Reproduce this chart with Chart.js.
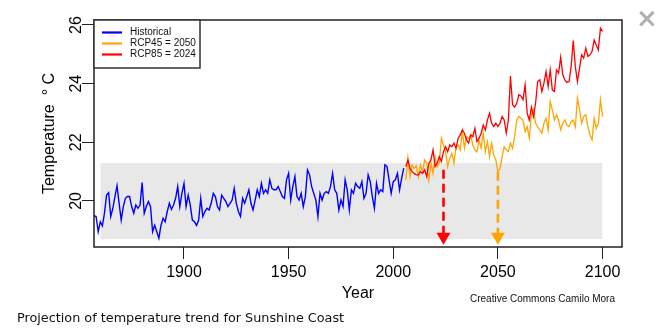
<!DOCTYPE html>
<html>
<head>
<meta charset="utf-8">
<script src="https://cdn.jsdelivr.net/npm/chart.js@4.4.1/dist/chart.umd.min.js"></script>
<style>
  body { margin: 0; background: #fff; }
  #wrap { position: relative; width: 668px; height: 328px; }
  #caption { position: absolute; left: 17px; top: 310px; font: 12.8px "DejaVu Sans", sans-serif; color: #111; white-space: nowrap; }
  #close { position: absolute; left: 636px; top: 3px; font: bold 26px "DejaVu Sans", sans-serif; color: #b0b0b0; }
</style>
</head>
<body>
<div id="wrap">
  <canvas id="chart" width="668" height="328"></canvas>
  <div id="caption">Projection of temperature trend for Sunshine Coast</div>
  <div id="close">×</div>
</div>
<script>
// Dados
const histStart = 1857;
const histTemp = [
  19.50, 19.47, 18.95, 19.29, 19.15, 19.58, 20.20, 20.28, 19.47, 19.75,
  20.15, 20.52, 19.92, 19.35, 19.81, 20.09, 20.15, 20.15, 19.81, 19.58,
  19.86, 19.75, 19.86, 20.63, 19.58, 19.81, 19.98, 19.81, 18.95, 19.17,
  18.95, 18.73, 19.17, 19.41, 19.29, 19.64, 19.92, 19.71, 19.86, 20.09,
  20.49, 19.81, 20.26, 20.60, 19.81, 20.20, 19.86, 19.35, 19.29, 19.17,
  19.35, 20.09, 19.47, 19.64, 19.75, 19.69, 19.92, 20.26, 20.15, 19.81,
  19.69, 20.20, 20.09, 19.98, 19.81, 19.92, 20.03, 20.43, 19.92, 19.64,
  19.47, 20.09, 19.92, 20.15, 20.38, 19.92, 19.69, 20.03, 20.38, 20.15,
  20.60, 20.26, 20.38, 20.26, 20.72, 20.43, 20.38, 20.38, 20.49, 20.32,
  20.15, 20.09, 20.72, 20.94, 20.03, 20.49, 20.83, 20.15, 20.03, 20.26,
  19.81, 20.15, 21.06, 20.89, 20.49, 20.26, 20.03, 19.47, 20.26, 20.03,
  20.26, 20.32, 20.26, 20.49, 20.94, 20.38, 20.26, 19.69, 20.03, 19.81,
  20.72, 20.38, 19.69, 20.38, 20.26, 20.60, 20.49, 20.43, 20.66, 20.09,
  20.26, 20.89, 20.66, 20.15, 19.75, 20.60, 20.26, 20.38, 20.32, 21.23,
  21.18, 20.72, 20.26, 20.66, 20.72, 20.94, 20.38, 20.77, 21.12
];

const projStart = 2006;
const rcp45Temp = [
  20.71, 21.46, 20.83, 21.23, 21.11, 21.20, 20.83, 21.23, 21.00, 21.40,
  21.29, 20.71, 21.29, 20.94, 21.51, 21.17, 21.29, 22.14, 21.90, 21.68,
  21.17, 21.46, 21.63, 21.29, 21.85, 21.91, 21.74, 22.36, 21.80, 22.19,
  22.14, 22.25, 21.91, 21.74, 21.68, 22.08, 21.80, 22.31, 21.68, 22.02,
  21.51, 21.97, 21.57, 21.40, 21.00, 21.10, 21.51, 21.85, 21.74, 21.68,
  21.97, 21.80, 22.20, 22.76, 22.88, 22.82, 22.76, 22.37, 22.53, 22.14,
  22.94, 23.11, 22.65, 22.53, 22.42, 22.31, 22.65, 22.82, 22.42, 23.39,
  23.11, 22.76, 22.94, 22.76, 22.42, 22.65, 22.76, 22.59, 22.53, 22.71,
  22.76, 22.53, 23.50, 23.11, 22.65, 22.88, 22.94, 22.53, 22.25, 22.08,
  22.82, 22.48, 22.65, 23.45, 22.88
];
const rcp85Temp = [
  21.17, 21.40, 21.11, 21.00, 20.94, 20.89, 20.89, 21.00, 20.94, 21.06,
  20.83, 21.29, 21.40, 21.74, 21.17, 21.29, 21.51, 21.35, 21.68, 21.85,
  21.68, 21.91, 21.85, 21.97, 21.80, 22.14, 22.25, 22.42, 22.31, 22.08,
  21.97, 22.25, 22.19, 22.48, 22.02, 22.14, 22.31, 22.59, 22.42, 22.76,
  22.99, 22.65, 22.54, 22.65, 22.54, 22.65, 22.88, 22.76, 22.31, 22.76,
  24.26, 23.28, 23.20, 23.33, 23.62, 23.58, 23.45, 23.96, 22.99, 22.76,
  23.20, 22.88, 23.33, 24.07, 24.13, 23.73, 24.02, 24.41, 23.90, 24.47,
  23.79, 23.73, 24.47, 24.36, 24.90, 24.30, 24.13, 24.04, 24.07, 24.58,
  25.47, 24.58, 24.07, 24.52, 24.98, 24.87, 25.21, 24.93, 24.98, 25.10,
  25.49, 25.32, 25.15, 25.89, 25.78
];

// Faixa cinza (variabilidade histórica)
const bandYears = [1860, 2100];
const bandLow = 18.7;
const bandHigh = 21.29;

// Setas: ano de saída do clima histórico
const arrowYears = [2024, 2050];
const arrowTop = [21.06, 21.0];
const arrowBottom = 18.9;
const arrowHead = 18.78;

const xTicks = [1900, 1950, 2000, 2050, 2100];
const yTicks = [20, 22, 24, 26];

const legendLabels = ['Historical', 'RCP45 = 2050', 'RCP85 = 2024'];
const colors = ['#0000ff', '#ffa500', '#ff0000'];

const toPoints = (start, arr) => arr.map((v, i) => ({ x: start + i, y: v }));

const plotBox = {
  id: 'plotBox',
  afterDraw(chart) {
    const { ctx, chartArea: a } = chart;
    ctx.save();
    // caixa do gráfico
    ctx.strokeStyle = '#222';
    ctx.lineWidth = 1.5;
    ctx.strokeRect(a.left, a.top, a.right - a.left, a.bottom - a.top);

    // legenda
    const lx = a.left, ly = a.top;
    ctx.fillStyle = '#fff';
    ctx.fillRect(lx, ly, 106, 48);
    ctx.strokeStyle = '#333';
    ctx.strokeRect(lx, ly, 106, 48);
    ctx.font = '10px Arial';
    ctx.textBaseline = 'middle';
    legendLabels.forEach((lab, i) => {
      const yy = ly + 12.5 + i * 11;
      ctx.strokeStyle = colors[i];
      ctx.lineWidth = 2.2;
      ctx.beginPath();
      ctx.moveTo(lx + 8, yy);
      ctx.lineTo(lx + 28, yy);
      ctx.stroke();
      ctx.fillStyle = '#111';
      ctx.fillText(lab, lx + 36, yy);
    });

    // crédito
    ctx.font = '10px Arial';
    ctx.fillStyle = '#111';
    ctx.textAlign = 'right';
    ctx.textBaseline = 'alphabetic';
    ctx.fillText('Creative Commons Camilo Mora', 615, 302);
    ctx.restore();
  }
};

const datasets = [
  {
    label: 'band',
    data: bandYears.map(x => ({ x, y: bandHigh })),
    borderWidth: 0,
    backgroundColor: '#e8e8e8',
    fill: { value: bandLow },
    pointRadius: 0,
    order: 10
  },
  {
    label: 'Historical',
    data: toPoints(histStart, histTemp),
    borderColor: colors[0],
    borderWidth: 1.4,
    pointRadius: 0,
    fill: false,
    order: 3
  },
  {
    label: 'RCP45',
    data: toPoints(projStart, rcp45Temp),
    borderColor: colors[1],
    borderWidth: 1.3,
    pointRadius: 0,
    fill: false,
    order: 2
  },
  {
    label: 'RCP85',
    data: toPoints(projStart, rcp85Temp),
    borderColor: colors[2],
    borderWidth: 1.3,
    pointRadius: 0,
    fill: false,
    order: 1
  }
];

// setas tracejadas
arrowYears.forEach((yr, i) => {
  const col = i === 0 ? colors[2] : colors[1];
  datasets.push({
    label: 'arrow' + yr,
    data: [{ x: yr, y: arrowTop[i] }, { x: yr, y: arrowBottom }],
    borderColor: col,
    borderWidth: 2.6,
    borderDash: [9, 5],
    pointRadius: 0,
    fill: false,
    order: 0
  });
  datasets.push({
    label: 'head' + yr,
    data: [{ x: yr, y: arrowHead }],
    showLine: false,
    pointStyle: 'triangle',
    rotation: 180,
    pointRadius: 8,
    pointBackgroundColor: col,
    pointBorderColor: col,
    pointBorderWidth: 0,
    order: 0
  });
});

const axisFont = { family: 'Arial', size: 16 };

new Chart(document.getElementById('chart'), {
  type: 'line',
  data: { datasets },
  options: {
    responsive: false,
    animation: false,
    layout: { padding: { top: 20, right: 46, left: 0, bottom: 0 } },
    plugins: { legend: { display: false }, tooltip: { enabled: false } },
    elements: { line: { tension: 0 } },
    scales: {
      x: {
        type: 'linear',
        min: 1857,
        max: 2109.3,
        afterBuildTicks: s => { s.ticks = xTicks.map(v => ({ value: v })); },
        afterFit: s => { s.height = 81; },
        grid: { drawOnChartArea: false, tickLength: 12, color: '#222' },
        border: { display: false },
        ticks: { padding: 4, maxRotation: 0, color: '#000', font: axisFont, callback: v => String(v) },
        title: { display: true, text: 'Year', color: '#000', font: axisFont, padding: { top: 0, bottom: 25 } }
      },
      y: {
        type: 'linear',
        min: 18.43,
        max: 26.17,
        afterBuildTicks: s => { s.ticks = yTicks.map(v => ({ value: v })); },
        afterFit: s => { s.width = 94; },
        grid: { drawOnChartArea: false, tickLength: 12, color: '#222' },
        border: { display: false },
        ticks: { minRotation: 90, maxRotation: 90, crossAlign: 'center', padding: -3, color: '#000', font: axisFont, callback: v => String(v) },
        title: { display: true, text: 'Temperature  \u00b0 C', color: '#000', font: axisFont, padding: { top: 40, bottom: 0 } }
      }
    }
  },
  plugins: [plotBox]
});
</script>
</body>
</html>
